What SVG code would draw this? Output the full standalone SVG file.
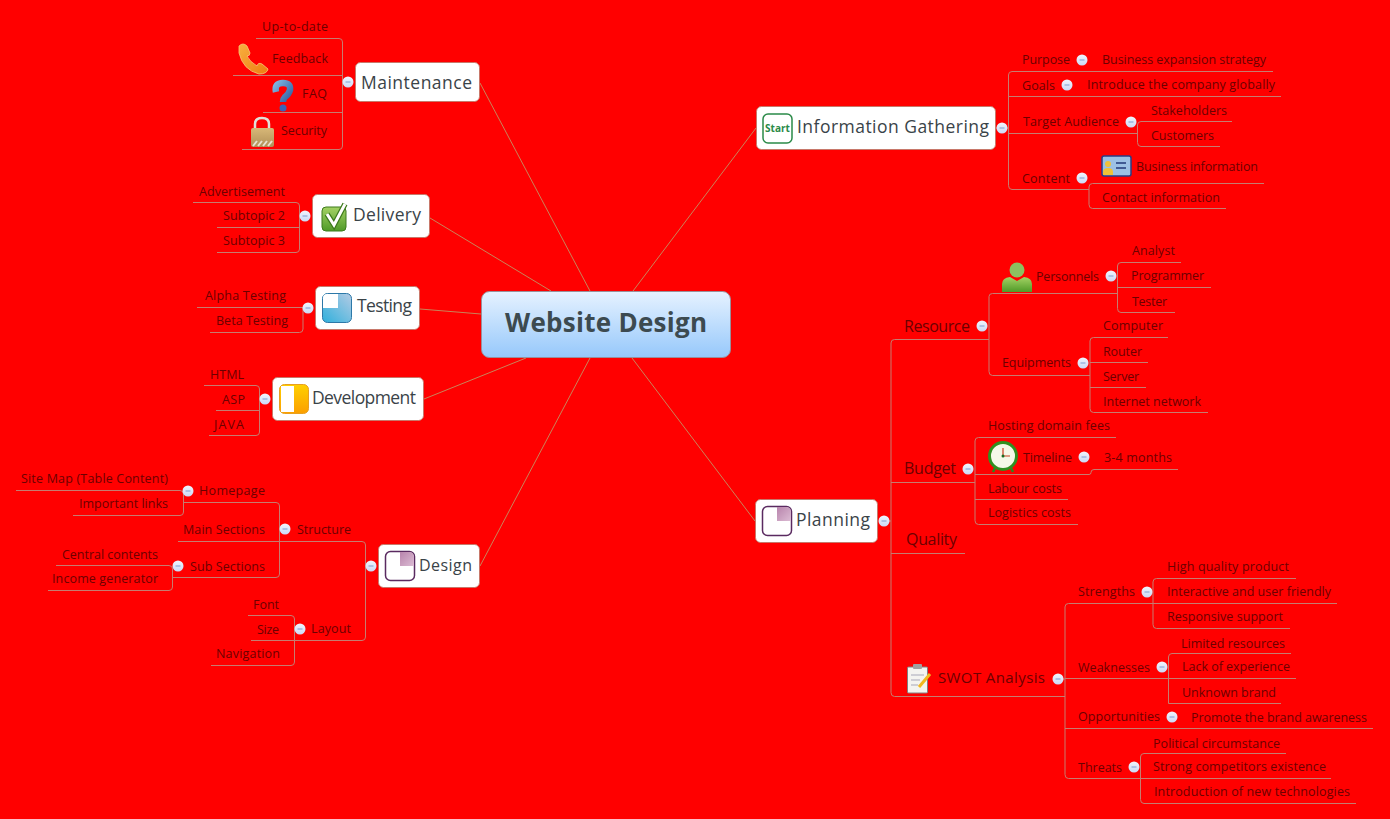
<svg xmlns="http://www.w3.org/2000/svg" width="1390" height="819" viewBox="0 0 1390 819">
<defs>
<linearGradient id="cg" x1="0" y1="0" x2="0" y2="1"><stop offset="0" stop-color="#e6f2ff"/><stop offset="1" stop-color="#96c8fb"/></linearGradient>
<linearGradient id="blue" x1="0" y1="1" x2="1" y2="0"><stop offset="0" stop-color="#2fb0dc"/><stop offset="1" stop-color="#b4cbe4"/></linearGradient>
<linearGradient id="orange" x1="0" y1="0" x2="0" y2="1"><stop offset="0" stop-color="#ffd000"/><stop offset="1" stop-color="#fb9f00"/></linearGradient>
<linearGradient id="purple" x1="0" y1="0" x2="1" y2="1"><stop offset="0" stop-color="#b884ac"/><stop offset="1" stop-color="#dcbcd4"/></linearGradient>
<linearGradient id="green" x1="0" y1="0" x2="0" y2="1"><stop offset="0" stop-color="#a4d264"/><stop offset="1" stop-color="#4f9a28"/></linearGradient>
<linearGradient id="tog" x1="0" y1="0" x2="0" y2="1"><stop offset="0" stop-color="#f0f4fc"/><stop offset="1" stop-color="#cbd9f6"/></linearGradient>
<linearGradient id="qm" x1="0" y1="0" x2="1" y2="1"><stop offset="0" stop-color="#7fb4e0"/><stop offset="1" stop-color="#2d5ca0"/></linearGradient>
<linearGradient id="lock" x1="0" y1="0" x2="0" y2="1"><stop offset="0" stop-color="#d8b878"/><stop offset="1" stop-color="#b09058"/></linearGradient>
<linearGradient id="phone" x1="0" y1="0" x2="1" y2="1"><stop offset="0" stop-color="#f8b040"/><stop offset="1" stop-color="#ee7c10"/></linearGradient>
<g id="toggle"><circle r="5.500" fill="url(#tog)"/><rect x="-2.500" y="-0.500" width="5" height="1" fill="#7f9dd2"/></g>
</defs>
<style>
text{font-family:"Open Sans","Noto Sans","Liberation Sans",sans-serif}
.l{font-size:12.5px;fill:#6c0000}
.m{font-size:16px;fill:#6c0000}
.n{font-size:17.5px;fill:#3a4348}
.c{fill:none;stroke:#c67c70;stroke-width:1}
.s{fill:none;stroke:#c8845a;stroke-width:1}
.b{fill:#fff;stroke:#c8786a;stroke-width:1}
</style>
<rect width="1390" height="819" fill="#ff0000"/>

<g id="connectors">
<path class="s" d="M480 83L590 291M430 218L551 291M420 309L481 314M424 399L526 358M480 566L590 358M756 128L633 291M755 521L632 358"/>
<path class="c" d="M256 38.500H339Q342.500 38.500 342.500 42V146Q342.500 149.500 339 149.500H242M233 75.500H342.500M263 112.500H342.500M342.500 82H348"/>
<path class="c" d="M193 202.500H296Q299.500 202.500 299.500 206V249Q299.500 252.500 296 252.500H217M217 227.500H299.500M299.500 216H305"/>
<path class="c" d="M197 307.500H303M303 307.500V329Q303 332.500 299.500 332.500H210"/>
<path class="c" d="M204 385.500H256Q259.500 385.500 259.500 389V432Q259.500 435.500 256 435.500H209M216 410.500H259.500M259.500 399H265"/>
<path class="c" d="M178 541.500H362Q365.500 541.500 365.500 545V637Q365.500 640.500 362 640.500H251M365.500 566H371"/>
<path class="c" d="M184 502.500H276Q279.500 502.500 279.500 506V574Q279.500 577.500 276 577.500H172"/>
<path class="c" d="M16 490.500H180Q183.500 490.500 183.500 494V512Q183.500 515.500 180 515.500H73"/>
<path class="c" d="M56 565.500H169Q172.500 565.500 172.500 569V587Q172.500 590.500 169 590.500H48"/>
<path class="c" d="M248 615.500H291Q294.500 615.500 294.500 619V662Q294.500 665.500 291 665.500H211"/>
<path class="c" d="M1273 71.500H1012Q1008.500 71.500 1008.500 75V185.500Q1008.500 189.500 1012 189.500H1089M1008.500 96.500H1281M1008.500 133.500H1137.500M996 128H1008.500"/>
<path class="c" d="M1232 121.500H1141Q1137.500 121.500 1137.500 125V142.500Q1137.500 146.500 1141 146.500H1220"/>
<path class="c" d="M1264 183.500H1092.500Q1089 183.500 1089 187V204.500Q1089 208.500 1092.500 208.500H1226"/>
<path class="c" d="M884 521H891M891 343Q891 339.500 894.500 339.500H989M891 343V692.500Q891 696.500 894.500 696.500H1065M891 482.500H975M891 553.500H965"/>
<path class="c" d="M989 339.500V296.500Q989 293.500 992.500 293.500H1117.500M989 339.500V371.500Q989 375.500 992.500 375.500H1090"/>
<path class="c" d="M1181 262.500H1121Q1117.500 262.500 1117.500 266V308.500Q1117.500 312.500 1121 312.500H1175M1117.500 287.500H1211"/>
<path class="c" d="M1168 337.500H1093.500Q1090 337.500 1090 341V408.500Q1090 412.500 1093.500 412.500H1208M1090 362.500H1148M1090 387.500H1146"/>
<path class="c" d="M1116 437.500H978.500Q975 437.500 975 441V520.500Q975 524.500 978.500 524.500H1078M975 474.500H1089Q1091 474.500 1091 472.500Q1091 469.500 1094 469.500H1178M975 499.500H1068"/>
<path class="c" d="M1058 679H1065M1153 603.500H1068.500Q1065 603.500 1065 607V774.500Q1065 778.500 1068.500 778.500H1140.500M1065 678.500H1168.500M1065 728.500H1373"/>
<path class="c" d="M1296 578.500H1156.500Q1153 578.500 1153 582V624.500Q1153 628.500 1156.500 628.500H1290M1153 603.500H1337"/>
<path class="c" d="M1291 653.500H1172Q1168.500 653.500 1168.500 657V703.500H1281M1168.500 678.500H1296"/>
<path class="c" d="M1286 753.500H1144Q1140.500 753.500 1140.500 757V799.500Q1140.500 803.500 1144 803.500H1356M1140.500 778.500H1331"/>
</g>

<g id="central"><rect x="481.500" y="291.500" width="249" height="66" rx="8" fill="url(#cg)" stroke="#9a8f9a"/><text x="505" y="332" font-size="26" font-weight="700" fill="#3c4a50" textLength="202">Website Design</text></g>

<g id="maintenance"><rect class="b" x="355.500" y="62.500" width="124" height="39" rx="5"/><text class="n" x="361" y="89" font-size="18" textLength="111">Maintenance</text><use href="#toggle" x="348" y="82"/></g>
<g id="up-to-date"><text class="l" x="262" y="31" textLength="66">Up-to-date</text></g>
<g id="feedback"><path d="M239 46Q243 42 247 46L250 53Q250 56 247 56Q250 62 257 66Q258 62 262 64L268 69Q267 74 259 74Q243 70 239 53Z" fill="url(#phone)" stroke="#f8c878" stroke-width="0.800"/><text class="l" x="272" y="63" textLength="56">Feedback</text></g>
<g id="faq"><path d="M276 92Q274 83 283 83Q291 83 290 90Q289 94 285 97Q283 99 283 102" fill="none" stroke="url(#qm)" stroke-width="6.500"/><circle cx="283" cy="108" r="3.500" fill="#3a62b8"/><text class="l" x="302" y="98" textLength="25">FAQ</text></g>
<g id="security"><path d="M255 129V124Q255 118 262 118Q269 118 269 124V129" fill="none" stroke="#e0e0d8" stroke-width="2.500"/><rect x="251" y="128" width="23" height="19" rx="2" fill="url(#lock)"/><path d="M253 146L257 141M258 146L262 141M263 146L267 141M268 146L272 141" stroke="#e8e2d0" stroke-width="2"/><text class="l" x="281" y="135" textLength="46">Security</text></g>

<g id="delivery"><rect class="b" x="312.500" y="194.500" width="117" height="43" rx="5"/><rect x="322" y="207" width="24" height="24" rx="4" fill="url(#green)" stroke="#3d7a1c"/><path d="M327 214L334 225L345 204" fill="none" stroke="#3d7a1c" stroke-width="5.500"/><path d="M327 214L334 225L345 204" fill="none" stroke="#fff" stroke-width="3"/><text class="n" x="353" y="221" textLength="68">Delivery</text><use href="#toggle" x="305" y="216"/></g>
<g id="advertisement"><text class="l" x="199" y="196" textLength="86">Advertisement</text></g>
<g id="subtopic-2"><text class="l" x="223" y="220" textLength="62">Subtopic 2</text></g>
<g id="subtopic-3"><text class="l" x="223" y="245" textLength="62">Subtopic 3</text></g>

<g id="testing"><rect class="b" x="315.500" y="286.500" width="104" height="43" rx="5"/><rect x="322.500" y="293.500" width="29" height="29" rx="5" fill="url(#blue)" stroke="#2c78a8"/><path d="M323 298Q323 294 327 294H338V308H323Z" fill="#fff"/><text class="n" x="357" y="312" textLength="55">Testing</text><use href="#toggle" x="308" y="308"/></g>
<g id="alpha-testing"><text class="l" x="205" y="300" textLength="81">Alpha Testing</text></g>
<g id="beta-testing"><text class="l" x="216" y="325" textLength="72">Beta Testing</text></g>

<g id="development"><rect class="b" x="272.500" y="377.500" width="151" height="43" rx="5"/><rect x="279.500" y="384.500" width="29" height="29" rx="5" fill="url(#orange)" stroke="#e8a020"/><path d="M281 386H294V412H281Z" fill="#fff"/><text class="n" x="312" y="404" font-size="17" textLength="104">Development</text><use href="#toggle" x="265" y="399"/></g>
<g id="html"><text class="l" x="210" y="379" textLength="34">HTML</text></g>
<g id="asp"><text class="l" x="222" y="404" textLength="23">ASP</text></g>
<g id="java"><text class="l" x="214" y="429" textLength="30">JAVA</text></g>

<g id="design"><rect class="b" x="378.500" y="544.500" width="101" height="43" rx="5"/><rect x="385.500" y="551.500" width="29" height="29" rx="5" fill="#fff" stroke="#5a2a60" stroke-width="1.500"/><path d="M400 552H409Q414 552 414 557V566H400Z" fill="url(#purple)"/><text x="419" y="571" font-size="16" fill="#3a4348" textLength="53">Design</text><use href="#toggle" x="371" y="566"/></g>
<g id="structure"><text class="l" x="297" y="534" textLength="54">Structure</text><use href="#toggle" x="285" y="529"/></g>
<g id="homepage"><text class="l" x="199" y="495" textLength="66">Homepage</text><use href="#toggle" x="188" y="491"/></g>
<g id="site-map"><text class="l" x="21" y="483" textLength="147">Site Map (Table Content)</text></g>
<g id="important-links"><text class="l" x="79" y="508" textLength="89">Important links</text></g>
<g id="main-sections"><text class="l" x="183" y="534" textLength="82">Main Sections</text></g>
<g id="sub-sections"><text class="l" x="190" y="571" textLength="75">Sub Sections</text><use href="#toggle" x="178" y="566"/></g>
<g id="central-contents"><text class="l" x="62" y="559" textLength="96">Central contents</text></g>
<g id="income-generator"><text class="l" x="52" y="583" textLength="106">Income generator</text></g>
<g id="layout"><text class="l" x="311" y="633" textLength="40">Layout</text><use href="#toggle" x="300" y="629"/></g>
<g id="font"><text class="l" x="253" y="609" textLength="26">Font</text></g>
<g id="size"><text class="l" x="257" y="634" textLength="22">Size</text></g>
<g id="navigation"><text class="l" x="216" y="658" textLength="64">Navigation</text></g>

<g id="information-gathering"><rect class="b" x="756.500" y="106.500" width="239" height="43" rx="5"/><rect x="763" y="114" width="29" height="29" rx="5" fill="#fff" stroke="#2a8a48" stroke-width="1.500"/><text x="777.500" y="132" font-size="10" font-weight="700" fill="#2a8a48" text-anchor="middle">Start</text><text class="n" x="797" y="133" textLength="192">Information Gathering</text><use href="#toggle" x="1002" y="128"/></g>
<g id="purpose"><text class="l" x="1022" y="64" textLength="48">Purpose</text><use href="#toggle" x="1082" y="60"/></g>
<g id="business-expansion"><text class="l" x="1102" y="64" textLength="164">Business expansion strategy</text></g>
<g id="goals"><text class="l" x="1022" y="90" textLength="33">Goals</text><use href="#toggle" x="1067" y="85"/></g>
<g id="introduce"><text class="l" x="1087" y="89" textLength="188">Introduce the company globally</text></g>
<g id="target-audience"><text class="l" x="1023" y="126" textLength="96">Target Audience</text><use href="#toggle" x="1131" y="122"/></g>
<g id="stakeholders"><text class="l" x="1151" y="115" textLength="76">Stakeholders</text></g>
<g id="customers"><text class="l" x="1151" y="140" textLength="63">Customers</text></g>
<g id="content"><text class="l" x="1022" y="183" textLength="48">Content</text><use href="#toggle" x="1082" y="178"/></g>
<g id="business-information"><rect x="1102" y="156" width="29" height="20" rx="2" fill="#9cc0e4" stroke="#2a3c84" stroke-width="1.500"/><circle cx="1108" cy="164" r="3" fill="#f0c038"/><path d="M1103 175V172Q1103 168 1108 168Q1113 168 1113 172V175Z" fill="#f0c038"/><path d="M1116 163H1126M1116 168H1126" stroke="#223878" stroke-width="1.500"/><text class="l" x="1136" y="171" textLength="122">Business information</text></g>
<g id="contact-information"><text class="l" x="1102" y="202" textLength="118">Contact information</text></g>

<g id="planning"><rect class="b" x="755.500" y="499.500" width="122" height="43" rx="5"/><rect x="762.500" y="506.500" width="29" height="29" rx="5" fill="#fff" stroke="#5a2a60" stroke-width="1.500"/><path d="M777 507H786Q791 507 791 512V521H777Z" fill="url(#purple)"/><text class="n" x="796" y="526" textLength="74">Planning</text><use href="#toggle" x="884" y="521"/></g>
<g id="resource"><text class="m" x="904" y="332" textLength="66">Resource</text><use href="#toggle" x="982" y="326"/></g>
<g id="personnels"><circle cx="1017" cy="270" r="7.500" fill="#8cc060"/><path d="M1002 292V284Q1002 278 1010 277L1017 281L1024 277Q1032 278 1032 284V292Z" fill="url(#green)"/><text class="l" x="1036" y="281" textLength="63">Personnels</text><use href="#toggle" x="1111" y="276"/></g>
<g id="analyst"><text class="l" x="1132" y="255" textLength="43">Analyst</text></g>
<g id="programmer"><text class="l" x="1131" y="280" textLength="73">Programmer</text></g>
<g id="tester"><text class="l" x="1132" y="306" textLength="35">Tester</text></g>
<g id="equipments"><text class="l" x="1002" y="367" textLength="69">Equipments</text><use href="#toggle" x="1083" y="363"/></g>
<g id="computer"><text class="l" x="1103" y="330" textLength="60">Computer</text></g>
<g id="router"><text class="l" x="1103" y="356" textLength="39">Router</text></g>
<g id="server"><text class="l" x="1103" y="381" textLength="36">Server</text></g>
<g id="internet-network"><text class="l" x="1103" y="406" textLength="98">Internet network</text></g>
<g id="budget"><text class="m" x="904" y="474" textLength="52">Budget</text><use href="#toggle" x="968" y="469"/></g>
<g id="hosting"><text class="l" x="988" y="430" textLength="122">Hosting domain fees</text></g>
<g id="timeline"><path d="M995 468L993 472M1011 468L1013 472" stroke="#2a8a20" stroke-width="2.500"/><circle cx="1003" cy="456" r="13.500" fill="#f4f8e8" stroke="#2f9020" stroke-width="3"/><path d="M1003 448V456H1010" fill="none" stroke="#c84020" stroke-width="1.200"/><circle cx="1003" cy="456" r="1.500" fill="#1a6a20"/><text class="l" x="1023" y="462" textLength="49">Timeline</text><use href="#toggle" x="1084" y="457"/></g>
<g id="months"><text class="l" x="1104" y="462" textLength="68">3-4 months</text></g>
<g id="labour"><text class="l" x="988" y="493" textLength="74">Labour costs</text></g>
<g id="logistics"><text class="l" x="988" y="517" textLength="83">Logistics costs</text></g>
<g id="quality"><text class="m" x="906" y="545" textLength="51">Quality</text></g>
<g id="swot"><rect x="907.500" y="667" width="20" height="26" rx="1" fill="#f4f4f0" stroke="#808080"/><rect x="913" y="664" width="9" height="5" rx="1" fill="#a0a0a0"/><path d="M911 675H924M911 680H920M911 685H918" stroke="#a8a8b8"/><path d="M919 687L930 674" stroke="#f0b820" stroke-width="3"/><text x="938" y="683" font-size="15" fill="#6c0000" textLength="107">SWOT Analysis</text><use href="#toggle" x="1058" y="679"/></g>
<g id="strengths"><text class="l" x="1078" y="596" textLength="57">Strengths</text><use href="#toggle" x="1147" y="592"/></g>
<g id="high-quality"><text class="l" x="1167" y="571" textLength="122">High quality product</text></g>
<g id="interactive"><text class="l" x="1167" y="596" textLength="164">Interactive and user friendly</text></g>
<g id="responsive"><text class="l" x="1167" y="621" textLength="116">Responsive support</text></g>
<g id="weaknesses"><text class="l" x="1078" y="672" textLength="72">Weaknesses</text><use href="#toggle" x="1162" y="667"/></g>
<g id="limited"><text class="l" x="1181" y="648" textLength="104">Limited resources</text></g>
<g id="lack"><text class="l" x="1182" y="671" textLength="108">Lack of experience</text></g>
<g id="unknown"><text class="l" x="1182" y="697" textLength="94">Unknown brand</text></g>
<g id="opportunities"><text class="l" x="1078" y="721" textLength="82">Opportunities</text><use href="#toggle" x="1172" y="717"/></g>
<g id="promote"><text class="l" x="1191" y="722" textLength="176">Promote the brand awareness</text></g>
<g id="threats"><text class="l" x="1078" y="772" textLength="44">Threats</text><use href="#toggle" x="1134" y="767"/></g>
<g id="political"><text class="l" x="1153" y="748" textLength="127">Political circumstance</text></g>
<g id="strong"><text class="l" x="1153" y="771" textLength="173">Strong competitors existence</text></g>
<g id="introduction"><text class="l" x="1154" y="796" textLength="196">Introduction of new technologies</text></g>
</svg>
